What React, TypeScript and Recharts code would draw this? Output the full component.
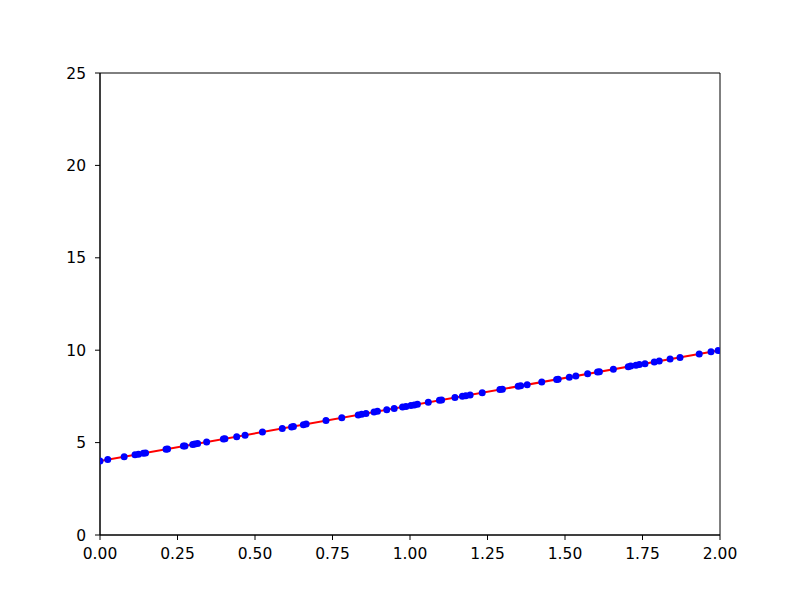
import React from 'react';
import { ScatterChart, Scatter, XAxis, YAxis, ReferenceArea } from 'recharts';

// fitted line endpoints
const lineX = [0, 2];
const lineY = [4, 10];

// sample points
const pointX = [
  0.0, 0.025, 0.078, 0.113, 0.124, 0.14, 0.147, 0.213, 0.218, 0.269, 0.274, 0.299, 0.306, 0.315,
  0.344, 0.398, 0.403, 0.441, 0.468, 0.524, 0.588, 0.618, 0.624, 0.656, 0.665, 0.729, 0.78,
  0.833, 0.844, 0.858, 0.884, 0.895, 0.925, 0.949, 0.976, 0.987, 1.003, 1.014, 1.024, 1.059,
  1.095, 1.102, 1.145, 1.169, 1.18, 1.194, 1.233, 1.29, 1.298, 1.349, 1.357, 1.378, 1.425,
  1.473, 1.478, 1.514, 1.535, 1.573, 1.605, 1.611, 1.656, 1.704, 1.712, 1.729, 1.74, 1.758,
  1.788, 1.804, 1.839, 1.871, 1.933, 1.971, 1.994,
];
const pointY = [
  4.0, 4.08, 4.23, 4.34, 4.37, 4.42, 4.44, 4.64, 4.65, 4.81, 4.82, 4.9, 4.92, 4.95,
  5.03, 5.19, 5.21, 5.32, 5.4, 5.57, 5.76, 5.85, 5.87, 5.97, 6.0, 6.19, 6.34,
  6.5, 6.53, 6.57, 6.65, 6.69, 6.78, 6.85, 6.93, 6.96, 7.01, 7.04, 7.07, 7.18,
  7.29, 7.31, 7.44, 7.51, 7.54, 7.58, 7.7, 7.87, 7.89, 8.05, 8.07, 8.13, 8.28,
  8.42, 8.43, 8.54, 8.61, 8.72, 8.82, 8.83, 8.97, 9.11, 9.14, 9.19, 9.22, 9.27,
  9.36, 9.41, 9.52, 9.61, 9.8, 9.91, 9.98,
];

const xTicks = [0, 0.25, 0.5, 0.75, 1, 1.25, 1.5, 1.75, 2];
const yTicks = [0, 5, 10, 15, 20, 25];

const lineData = lineX.map((x, i) => ({ x, y: lineY[i] }));
const pointData = pointX.map((x, i) => ({ x, y: pointY[i] }));

const tickStyle = { fill: '#000', fontSize: 15.5, fontFamily: 'DejaVu Sans' };

export default function App() {
  return (
    <div style={{ position: 'absolute', left: 0, top: 0, background: '#fff' }}>
      <ScatterChart width={800} height={600} margin={{ top: 73, right: 80, bottom: 35, left: 0 }}>
        <XAxis
          type="number"
          dataKey="x"
          domain={[0, 2]}
          ticks={xTicks}
          tickFormatter={(v: number) => v.toFixed(2)}
          height={30}
          tick={tickStyle}
          tickSize={5}
          tickMargin={8}
          stroke="#000"
          allowDataOverflow
        />
        <YAxis
          type="number"
          dataKey="y"
          domain={[0, 25]}
          ticks={yTicks}
          width={100}
          tick={tickStyle}
          tickSize={5}
          tickMargin={9}
          stroke="#000"
          allowDataOverflow
        />
        <ReferenceArea x1={0} x2={2} y1={0} y2={25} stroke="#000" strokeWidth={1} fill="none" ifOverflow="visible" />
        <Scatter
          data={lineData}
          line={{ stroke: '#ff0000', strokeWidth: 2 }}
          shape={() => <g />}
          isAnimationActive={false}
        />
        <Scatter
          data={pointData}
          fill="#0000ff"
          shape={(props: any) => <circle cx={props.cx} cy={props.cy} r={3.5} fill="#0000ff" />}
          isAnimationActive={false}
        />
      </ScatterChart>
    </div>
  );
}
